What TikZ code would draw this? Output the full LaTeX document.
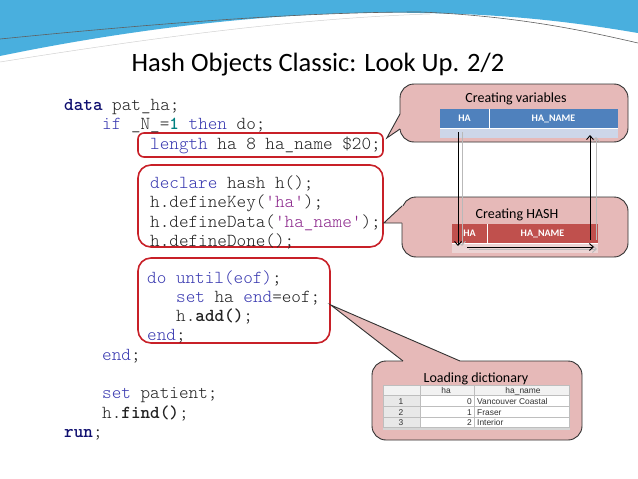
\documentclass[tikz,border=0pt]{standalone}
\usepackage{fontspec}
\setmainfont{Carlito}
\newfontfamily\codefont{lmmonolt10-regular.otf}[BoldFont=lmmonolt10-bold.otf]
\newfontfamily\tabfont{Liberation Sans}
\usetikzlibrary{arrows.meta,calc}
\definecolor{hdrblue}{RGB}{73,175,222}
\definecolor{kwblue}{RGB}{56,56,176}
\definecolor{navy}{RGB}{16,16,112}
\definecolor{strpurple}{RGB}{140,40,140}
\definecolor{numteal}{RGB}{0,128,128}
\definecolor{codeblack}{RGB}{34,34,34}
\definecolor{boxred}{RGB}{200,32,40}
\definecolor{pinkfill}{RGB}{230,185,184}
\definecolor{calline}{RGB}{50,50,50}
\definecolor{tblblue}{RGB}{79,129,189}
\definecolor{tbllblue}{RGB}{205,214,232}
\definecolor{tblred}{RGB}{192,80,77}
\definecolor{tbllred}{RGB}{235,212,212}
\definecolor{gridgray}{RGB}{190,190,190}
\definecolor{framegray}{RGB}{214,214,214}
\definecolor{hdrgray}{RGB}{242,242,242}
\definecolor{idxgray}{RGB}{232,232,232}
\definecolor{tabtext}{RGB}{50,50,50}
\newcommand{\kw}[1]{\textcolor{kwblue}{#1}}
\newcommand{\kb}[1]{\textcolor{navy}{\textbf{#1}}}
\newcommand{\strq}[1]{\textcolor{strpurple}{#1}}
\newcommand{\numv}[1]{\textcolor{numteal}{\textbf{#1}}}
\begin{document}
\begin{tikzpicture}[x=1pt,y=-1pt,
  code/.style={anchor=base west, inner sep=0pt, font=\codefont\fontsize{18.3}{21}\selectfont, text=codeblack},
  codebox/.style={draw=boxred, line width=1.6pt, inner sep=0pt},
  callout/.style={fill=pinkfill, draw=calline, line width=0.9pt, rounded corners=14pt},
  calledge/.style={draw=calline, line width=0.9pt, line join=miter},
  caltitle/.style={anchor=base, inner sep=0pt, font=\fontsize{14}{16}\selectfont, text=black},
  cellhdr/.style={inner sep=0pt, text=white, font=\bfseries\fontsize{10}{12}\selectfont},
  arr/.style={draw=black, line width=0.9pt, -{Straight Barb[length=4pt,width=7pt]}},
  arrsh/.style={draw=gray!55, line width=0.9pt, -{Straight Barb[length=4pt,width=7pt]}},
  tabtxt/.style={inner sep=0pt, text=tabtext, font=\tabfont\fontsize{8.4}{9}\selectfont},
  gridcell/.style={draw=gridgray, line width=0.5pt}
]
\useasboundingbox (0,0) rectangle (638,479);
\fill[white] (0,0) rectangle (638,479);

% header wave
\fill[hdrblue] (0,0) -- (638,0) -- (638,33) .. controls (590,25) and (520,14) .. (420,13)
  .. controls (300,10) and (150,25) .. (0,56) -- cycle;
\draw[gray!75!black, line width=0.6pt] (0,39) .. controls (150,24) and (300,12) .. (420,12)
  .. controls (520,16) and (590,32) .. (638,43);
\draw[gray!35, line width=0.5pt] (0,62) .. controls (150,38) and (300,18) .. (430,14);

% title
\node[anchor=base, inner sep=0pt, font=\fontsize{26.5}{30}\selectfont] (title) at (318,71) {Hash Objects Classic: Look Up. 2/2};

% code boxes
\node[codebox, rounded corners=6pt, minimum width=245pt, minimum height=24pt] (b1) at (260.5,145) {};
\node[codebox, rounded corners=13pt, minimum width=245pt, minimum height=82pt] (b2) at (260.5,206) {};
\node[codebox, rounded corners=13pt, minimum width=192pt, minimum height=85pt] (b3) at (234,300.5) {};

% code
\node[code] (l1) at (64,110) {\kb{data} pat\_ha;};
\node[code] (l2) at (102,129.5) {\kw{if} \_N\_=\numv{1} \kw{then} do;};
\node[code] (l3) at (150,149) {\kw{length} ha 8 ha\_name \$20;};
\node[code] (l4) at (150,188) {\kw{declare} hash h();};
\node[code] (l5) at (150,207.5) {h.defineKey(\strq{'ha'});};
\node[code] (l6) at (150,227) {h.defineData(\strq{'ha\_name'});};
\node[code] (l7) at (150,246) {h.defineDone();};
\node[code] (l8) at (147,283) {\kw{do until(eof)};};
\node[code] (l9) at (176,302) {\kw{set} ha \kw{end}=eof;};
\node[code] (l10) at (176,321) {h.\textbf{add()};};
\node[code] (l11) at (147,340) {\kw{end};};
\node[code] (l12) at (102,360) {\kw{end};};
\node[code] (l13) at (102,398) {\kw{set} patient;};
\node[code] (l14) at (102,418) {h.\textbf{find()};};
\node[code] (l15) at (64,437) {\kb{run};};

% callout 1
\coordinate (t1) at ($(b1.east)+(3,-7)$);
\coordinate (p1a) at (400,114);
\coordinate (p1b) at (400,129);
\draw[callout] (400,84) rectangle (628,142);
\fill[pinkfill] (t1) -- (p1a) -- ($(p1a)+(6,0)$) -- ($(p1b)+(6,0)$) -- (p1b) -- cycle;
\draw[calledge] (p1a) -- (t1) -- (p1b);
\node[caltitle] (cv) at (516,102) {Creating variables};
\node[cellhdr, fill=tblblue, minimum width=49pt, minimum height=19pt] (vha) at (464.5,118.5) {HA};
\node[cellhdr, fill=tblblue, minimum width=129pt, minimum height=19pt] (vname) at (553.5,118.5) {HA\_NAME};
\node[inner sep=0pt, fill=tbllblue, minimum width=178pt, minimum height=9.5pt] (vrow) at (529,133) {};
\draw[white, line width=0.8pt] (vha.north east) -- (vha.south east);
\draw[white, line width=0.6pt] (vrow.north west) -- (vrow.north east);

% callout 2
\coordinate (t2) at ($(b2.east)+(0,17)$);
\coordinate (p2a) at (402,206);
\coordinate (p2b) at (402,223);
\draw[callout] (402,197) rectangle (628,257);
\fill[pinkfill] (t2) -- (p2a) -- ($(p2a)+(6,0)$) -- ($(p2b)+(6,0)$) -- (p2b) -- cycle;
\draw[calledge] (p2a) -- (t2) -- (p2b);
\node[caltitle] (ch) at (517,218) {Creating HASH};
\node[cellhdr, fill=tblred, minimum width=35pt, minimum height=19pt] (hha) at (469.5,233.5) {HA};
\node[cellhdr, fill=tblred, minimum width=111pt, minimum height=19pt] (hname) at (542.5,233.5) {HA\_NAME};
\node[inner sep=0pt, fill=tbllred, minimum width=146pt, minimum height=10pt] (hrow) at (525,248) {};
\draw[white, line width=0.8pt] (hha.north east) -- (hha.south east);
\draw[white, line width=0.6pt] (hrow.north west) -- (hrow.north east);

% arrows between the tables
\coordinate (a1s) at (458,132);
\coordinate (a1e) at (458,246);
\coordinate (a2s) at (467,247);
\coordinate (a2e) at (594,247);
\coordinate (a3s) at (590,240);
\coordinate (a3e) at (590,135);
\draw[arrsh] ($(a1s)+(4,0)$) -- ($(a1e)+(4,0)$);
\draw[arrsh] ($(a2s)+(2,2)$) -- ($(a2e)+(3,2)$);
\draw[arrsh] ($(a3s)+(6,0)$) -- ($(a3e)+(6,2)$);
\draw[arr] (a1s) -- (a1e);
\draw[arr] (a2s) -- (a2e);
\draw[arr] (a3s) -- (a3e);

% callout 3
\coordinate (t3) at ($(b3.east)+(0,4.5)$);
\coordinate (p3a) at (403,361);
\coordinate (p3b) at (460,361);
\draw[callout] (372,361) rectangle (582,440);
\fill[pinkfill] (t3) -- (p3a) -- ($(p3a)+(0,6)$) -- ($(p3b)+(0,6)$) -- (p3b) -- cycle;
\draw[calledge] (p3a) -- (t3) -- (p3b);
\node[caltitle] (cd) at (476,382) {Loading dictionary};

% dictionary table
\fill[framegray] (383,385) rectangle (570,430);
\filldraw[gridcell, fill=hdrgray] (383,385) rectangle (420,395);
\filldraw[gridcell, fill=hdrgray] (420,385) rectangle (474,395);
\filldraw[gridcell, fill=hdrgray] (474,385) rectangle (569,395);
\foreach \ya/\yb in {395/406,406/417,417/427}{
  \filldraw[gridcell, fill=idxgray] (383,\ya) rectangle (420,\yb);
  \filldraw[gridcell, fill=white] (420,\ya) rectangle (474,\yb);
  \filldraw[gridcell, fill=white] (474,\ya) rectangle (569,\yb);
}
\node[tabtxt, anchor=base] (th1) at (446,393) {ha};
\node[tabtxt, anchor=base] (th2) at (523,393) {ha\_name};
\node[tabtxt, anchor=base] (r1i) at (401,404) {1};
\node[tabtxt, anchor=base] (r2i) at (401,415) {2};
\node[tabtxt, anchor=base] (r3i) at (401,425) {3};
\node[tabtxt, anchor=base east] (r1h) at (472,404) {0};
\node[tabtxt, anchor=base east] (r2h) at (472,415) {1};
\node[tabtxt, anchor=base east] (r3h) at (472,425) {2};
\node[tabtxt, anchor=base west] (r1n) at (477,404) {Vancouver Coastal};
\node[tabtxt, anchor=base west] (r2n) at (477,415) {Fraser};
\node[tabtxt, anchor=base west] (r3n) at (477,425) {Interior};
\end{tikzpicture}
\end{document}
